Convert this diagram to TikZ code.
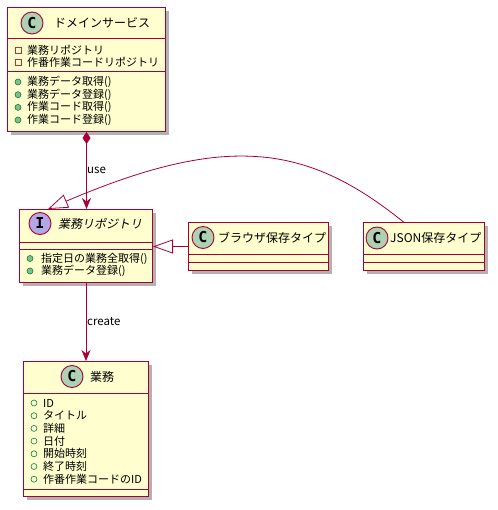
\documentclass[tikz,border=0pt]{standalone}
\usepackage{fontspec}
\setmainfont{Noto Sans CJK JP}
\newfontfamily\jpit[FakeSlant=0.2]{Noto Sans CJK JP}
\newfontfamily\circfont{DejaVu Sans Mono}
\usetikzlibrary{arrows.meta,shadows}
\definecolor{umlfill}{HTML}{FEFECE}
\definecolor{umlborder}{HTML}{A80036}
\definecolor{circC}{HTML}{ADD1B2}
\definecolor{circI}{HTML}{B4A7E5}
\definecolor{pubgreen}{HTML}{038048}
\definecolor{pubfill}{HTML}{84BE84}
\definecolor{privred}{HTML}{C82930}
\begin{document}
\begin{tikzpicture}[x=1pt,y=-1pt,
  cls/.style={draw=umlborder, fill=umlfill, line width=1pt, anchor=north west, inner sep=0pt,
    drop shadow={shadow xshift=3.5pt, shadow yshift=-3.5pt, opacity=0.3, fill=black}},
  sepline/.style={draw=umlborder, line width=1pt},
  circ/.style={circle, draw=umlborder, line width=0.9pt, minimum size=22pt, inner sep=0pt,
    font=\circfont\bfseries\fontsize{15}{15}\selectfont},
  title/.style={anchor=west, inner sep=0pt, font=\fontsize{12}{14}\selectfont},
  mem/.style={anchor=west, inner sep=0pt, font=\fontsize{11}{13}\selectfont},
  pubm/.style={circle, draw=pubgreen, fill=pubfill, line width=0.6pt, minimum size=6pt, inner sep=0pt},
  pubf/.style={circle, draw=pubgreen, fill=none, line width=0.6pt, minimum size=6pt, inner sep=0pt},
  privf/.style={rectangle, draw=privred, fill=none, line width=0.7pt, minimum size=6pt, inner sep=0pt},
  conn/.style={draw=umlborder, line width=0.8pt},
  lbl/.style={anchor=west, inner sep=0pt, font=\fontsize{11.5}{13}\selectfont}
]
\useasboundingbox (0,0) rectangle (497,510);

% ---- ドメインサービス
\node[cls, minimum width=158pt, minimum height=124pt] (dom) at (7,7) {};
\draw[sepline] ([yshift=-32pt]dom.north west) -- ([yshift=-32pt]dom.north east);
\draw[sepline] ([yshift=-65pt]dom.north west) -- ([yshift=-65pt]dom.north east);
\node[circ, fill=circC] (domc) at (32,23) {C};
\node[title] (domt) at (54,23) {ドメインサービス};
\node[privf] (domb1) at (18,50) {};
\node[mem] (domf1) at (27,50) {業務リポジトリ};
\node[privf] (domb2) at (18,62.5) {};
\node[mem] (domf2) at (27,62.5) {作番作業コードリポジトリ};
\node[pubm] (domb3) at (18,82) {};
\node[mem] (domm1) at (27,82) {業務データ取得()};
\node[pubm] (domb4) at (18,94.7) {};
\node[mem] (domm2) at (27,94.7) {業務データ登録()};
\node[pubm] (domb5) at (18,107.4) {};
\node[mem] (domm3) at (27,107.4) {作業コード取得()};
\node[pubm] (domb6) at (18,120) {};
\node[mem] (domm4) at (27,120) {作業コード登録()};

% ---- 業務リポジトリ
\node[cls, minimum width=133pt, minimum height=73pt] (repo) at (19,209) {};
\draw[sepline] ([yshift=-33pt]repo.north west) -- ([yshift=-33pt]repo.north east);
\draw[sepline] ([yshift=-40pt]repo.north west) -- ([yshift=-40pt]repo.north east);
\node[circ, fill=circI] (repoc) at (40,223.5) {I};
\node[title, font=\jpit\fontsize{12}{14}\selectfont] (repot) at (58,223.5) {業務リポジトリ};
\node[pubm] (repob1) at (30,258.5) {};
\node[mem] (repom1) at (41,258.5) {指定日の業務全取得()};
\node[pubm] (repob2) at (30,271) {};
\node[mem] (repom2) at (41,271) {業務データ登録()};

% ---- ブラウザ保存タイプ
\node[cls, minimum width=140pt, minimum height=48pt] (br) at (188,222) {};
\draw[sepline] ([yshift=-32pt]br.north west) -- ([yshift=-32pt]br.north east);
\draw[sepline] ([yshift=-40pt]br.north west) -- ([yshift=-40pt]br.north east);
\node[circ, fill=circC] (brc) at (203,237.5) {C};
\node[title] (brt) at (218,237.5) {ブラウザ保存タイプ};

% ---- JSON保存タイプ
\node[cls, minimum width=121pt, minimum height=48pt] (json) at (363,222) {};
\draw[sepline] ([yshift=-32pt]json.north west) -- ([yshift=-32pt]json.north east);
\draw[sepline] ([yshift=-40pt]json.north west) -- ([yshift=-40pt]json.north east);
\node[circ, fill=circC] (jsonc) at (377,238) {C};
\node[title] (jsont) at (390,238) {JSON保存タイプ};

% ---- 業務
\node[cls, minimum width=125pt, minimum height=135pt] (gy) at (23,361) {};
\draw[sepline] ([yshift=-32pt]gy.north west) -- ([yshift=-32pt]gy.north east);
\draw[sepline] ([yshift=-128pt]gy.north west) -- ([yshift=-128pt]gy.north east);
\node[circ, fill=circC] (gyc) at (72,376.5) {C};
\node[title] (gyt) at (90,376.5) {業務};
\node[pubf] (gyb1) at (34,403) {};
\node[mem] (gyf1) at (43,403) {ID};
\node[pubf] (gyb2) at (34,415.7) {};
\node[mem] (gyf2) at (43,415.7) {タイトル};
\node[pubf] (gyb3) at (34,428.4) {};
\node[mem] (gyf3) at (43,428.4) {詳細};
\node[pubf] (gyb4) at (34,441.1) {};
\node[mem] (gyf4) at (43,441.1) {日付};
\node[pubf] (gyb5) at (34,453.8) {};
\node[mem] (gyf5) at (43,453.8) {開始時刻};
\node[pubf] (gyb6) at (34,466.5) {};
\node[mem] (gyf6) at (43,466.5) {終了時刻};
\node[pubf] (gyb7) at (34,479.2) {};
\node[mem] (gyf7) at (43,479.2) {作番作業コードのID};

% ---- connectors
\draw[conn, {Diamond[length=12pt,width=8pt,fill=umlborder]}-{Stealth[length=11pt,width=9pt,inset=3.5pt]}]
  (dom.south) -- (dom.south |- repo.north);
\node[lbl] (uselbl) at (87,170) {use};

\draw[conn, -{Stealth[length=11pt,width=9pt,inset=3.5pt]}]
  (repo.south) -- (repo.south |- gy.north);
\node[lbl] (createlbl) at (87,322) {create};

\draw[conn, -{Triangle[open,length=20pt,width=14pt,fill=white]}]
  (br.west) -- (br.west -| repo.east);

\draw[conn, -{Triangle[open,length=20pt,width=14pt,fill=white]}]
  ([xshift=-20.5pt]json.north) .. controls (308,145) and (228,132) .. ([xshift=-38pt]repo.north);
\end{tikzpicture}
\end{document}
